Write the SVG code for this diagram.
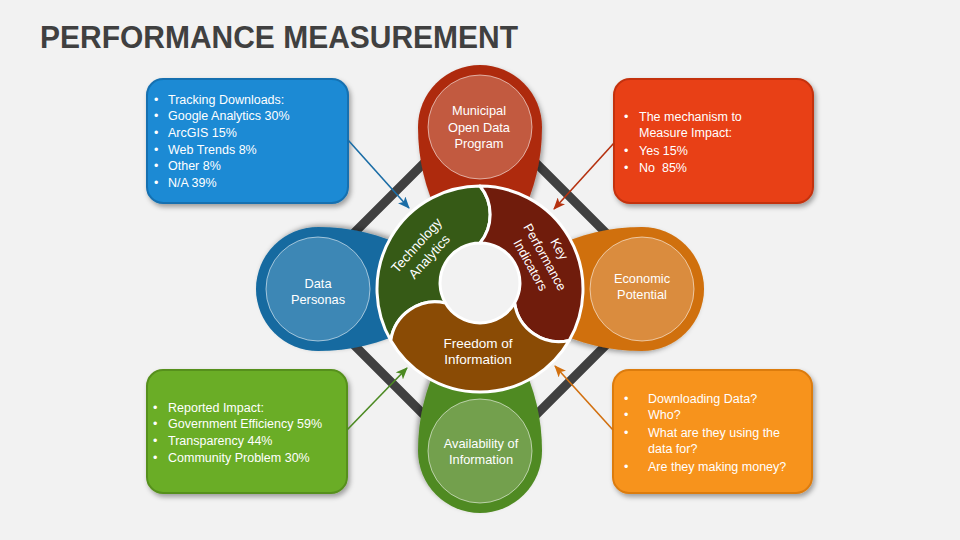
<svg xmlns="http://www.w3.org/2000/svg" width="960" height="540" viewBox="0 0 960 540">
<defs>
<style>
text{font-family:"Liberation Sans",Arial,sans-serif;fill:#fff}
.title{font-size:32px;font-weight:bold;fill:#404040}
.box{font-size:12.5px}
.pt{font-size:12.8px;text-anchor:middle}
.sw{font-size:13.5px;text-anchor:middle}
.inner{stroke:#fff;stroke-opacity:0.55;stroke-width:1}
.seg{stroke:#fff;stroke-width:3;stroke-linejoin:round}
.arrow{stroke-width:1.6;fill:none}
</style>
<filter id="sh" x="-20%" y="-20%" width="140%" height="140%">
<feDropShadow dx="2" dy="3" stdDeviation="2.5" flood-color="#000" flood-opacity="0.35"/>
</filter>
<path id="petal" d="M-62 -162 A62 62 0 0 1 62 -162 C62 -130 55 -100 40 -70 L-40 -70 C-55 -100 -62 -130 -62 -162 Z"/>
<marker id="mB" markerUnits="userSpaceOnUse" markerWidth="12" markerHeight="10" refX="11" refY="5" orient="auto"><path d="M0 0 L12 5 L0 10 L3 5 Z" fill="#1B6DA6"/></marker>
<marker id="mR" markerUnits="userSpaceOnUse" markerWidth="12" markerHeight="10" refX="11" refY="5" orient="auto"><path d="M0 0 L12 5 L0 10 L3 5 Z" fill="#B5310F"/></marker>
<marker id="mG" markerUnits="userSpaceOnUse" markerWidth="12" markerHeight="10" refX="11" refY="5" orient="auto"><path d="M0 0 L12 5 L0 10 L3 5 Z" fill="#4C8A22"/></marker>
<marker id="mO" markerUnits="userSpaceOnUse" markerWidth="12" markerHeight="10" refX="11" refY="5" orient="auto"><path d="M0 0 L12 5 L0 10 L3 5 Z" fill="#D2700F"/></marker>
</defs>
<rect width="960" height="540" fill="#F2F2F2"/>
<g id="title"><text class="title" x="40" y="48" textLength="478" lengthAdjust="spacingAndGlyphs">PERFORMANCE MEASUREMENT</text></g>
<g id="diamond"><polygon points="480,107 662,289 480,471 298,289" fill="none" stroke="#404040" stroke-width="9"/></g>
<g id="petal-municipal">
<use href="#petal" transform="translate(480,289)" fill="#AE2B0F" filter="url(#sh)"/>
<circle class="inner" cx="480" cy="127" r="52" fill="#C25A40"/>
<text class="pt"><tspan x="479" y="114.5">Municipal</tspan><tspan x="479" y="131.5">Open Data</tspan><tspan x="479" y="148">Program</tspan></text>
</g>
<g id="petal-economic">
<use href="#petal" transform="translate(480,289) rotate(90)" fill="#D0700A" filter="url(#sh)"/>
<circle class="inner" cx="642" cy="289" r="52" fill="#DA8C3E"/>
<text class="pt"><tspan x="642" y="282.5">Economic</tspan><tspan x="642" y="298.5">Potential</tspan></text>
</g>
<g id="petal-availability">
<use href="#petal" transform="translate(480,289) rotate(180)" fill="#4F8A22" filter="url(#sh)"/>
<circle class="inner" cx="480" cy="451" r="52" fill="#73A04D"/>
<text class="pt"><tspan x="481" y="447.5">Availability of</tspan><tspan x="481" y="463.5">Information</tspan></text>
</g>
<g id="petal-personas">
<use href="#petal" transform="translate(480,289) rotate(270)" fill="#146AA0" filter="url(#sh)"/>
<circle class="inner" cx="318" cy="289" r="52" fill="#3D87B5"/>
<text class="pt"><tspan x="318" y="287.5">Data</tspan><tspan x="318" y="304">Personas</tspan></text>
</g>
<g id="seg-technology">
<path class="seg" fill="#365A16" d="M390.8 340.5 A103 103 0 0 1 480 186 A45 45 0 0 1 480 243 A40 40 0 0 0 445.4 303 A45 45 0 0 0 390.8 340.5 Z"/>
<text class="sw" transform="translate(423,251) rotate(-48)"><tspan x="0" y="-4">Technology</tspan><tspan x="0" y="13">Analytics</tspan></text>
</g>
<g id="seg-kpi">
<path class="seg" fill="#701C0C" d="M480 186 A103 103 0 0 1 569.2 340.5 A45 45 0 0 1 514.6 303 A40 40 0 0 0 480 243 A45 45 0 0 0 480 186 Z"/>
<text class="sw" style="font-size:13px" transform="translate(545,257) rotate(61)"><tspan x="0" y="-12">Key</tspan><tspan x="0" y="4.5">Performance</tspan><tspan x="0" y="21">Indicators</tspan></text>
</g>
<g id="seg-freedom">
<path class="seg" fill="#8A4B05" d="M569.2 340.5 A103 103 0 0 1 390.8 340.5 A45 45 0 0 1 445.4 303 A40 40 0 0 0 514.6 303 A45 45 0 0 0 569.2 340.5 Z"/>
<text class="sw"><tspan x="478" y="347.5">Freedom of</tspan><tspan x="478" y="364">Information</tspan></text>
</g>
<g id="box-tracking">
<rect x="147" y="79" width="201" height="124" rx="16" fill="#1A8AD4" stroke="#1670B0" stroke-width="2" filter="url(#sh)"/>
<text class="box"><tspan x="154" y="103.5">•</tspan><tspan x="168" y="103.5">Tracking Downloads:</tspan>
<tspan x="154" y="120">•</tspan><tspan x="168" y="120">Google Analytics 30%</tspan>
<tspan x="154" y="137">•</tspan><tspan x="168" y="137">ArcGIS 15%</tspan>
<tspan x="154" y="153.5">•</tspan><tspan x="168" y="153.5">Web Trends 8%</tspan>
<tspan x="154" y="170">•</tspan><tspan x="168" y="170">Other 8%</tspan>
<tspan x="154" y="187">•</tspan><tspan x="168" y="187">N/A 39%</tspan></text>
</g>
<g id="box-mechanism">
<rect x="614" y="79" width="199" height="124" rx="16" fill="#E83F18" stroke="#C4330F" stroke-width="2" filter="url(#sh)"/>
<text class="box" xml:space="preserve"><tspan x="624" y="120.5">•</tspan><tspan x="639" y="120.5">The mechanism to</tspan><tspan x="639" y="137">Measure Impact:</tspan><tspan x="624" y="154.5">•</tspan><tspan x="639" y="154.5">Yes 15%</tspan><tspan x="624" y="171.5">•</tspan><tspan x="639" y="171.5">No  85%</tspan></text>
</g>
<g id="box-reported">
<rect x="147" y="370" width="200" height="123" rx="16" fill="#6AAD27" stroke="#57901E" stroke-width="2" filter="url(#sh)"/>
<text class="box"><tspan x="153" y="411.5">•</tspan><tspan x="168" y="411.5">Reported Impact:</tspan>
<tspan x="153" y="428">•</tspan><tspan x="168" y="428">Government Efficiency 59%</tspan>
<tspan x="153" y="445">•</tspan><tspan x="168" y="445">Transparency 44%</tspan>
<tspan x="153" y="461.5">•</tspan><tspan x="168" y="461.5">Community Problem 30%</tspan></text>
</g>
<g id="box-downloading">
<rect x="613" y="370" width="199" height="123" rx="16" fill="#F7931F" stroke="#DC7B10" stroke-width="2" filter="url(#sh)"/>
<text class="box"><tspan x="624" y="402.5">•</tspan><tspan x="648" y="402.5">Downloading Data?</tspan>
<tspan x="624" y="418.5">•</tspan><tspan x="648" y="418.5">Who?</tspan>
<tspan x="624" y="436.5">•</tspan><tspan x="648" y="436.5">What are they using the</tspan>
<tspan x="648" y="452.5">data for?</tspan>
<tspan x="624" y="470.5">•</tspan><tspan x="648" y="470.5">Are they making money?</tspan></text>
</g>
<g id="connectors">
<line class="arrow" x1="348" y1="140" x2="409" y2="208" stroke="#1B6DA6" marker-end="url(#mB)"/>
<line class="arrow" x1="614" y1="143" x2="554" y2="209" stroke="#B5310F" marker-end="url(#mR)"/>
<line class="arrow" x1="347" y1="430" x2="407" y2="368" stroke="#4C8A22" marker-end="url(#mG)"/>
<line class="arrow" x1="613" y1="430" x2="555" y2="366" stroke="#D2700F" marker-end="url(#mO)"/>
</g>
</svg>
